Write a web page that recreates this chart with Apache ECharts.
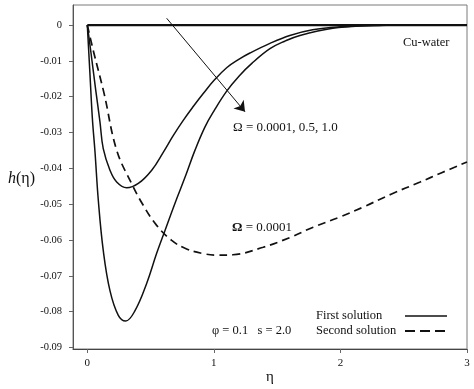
<!DOCTYPE html>
<html>
<head>
<meta charset="utf-8">
<script src="https://cdn.jsdelivr.net/npm/echarts@6/dist/echarts.min.js"></script>
<style>
html,body{margin:0;padding:0;background:#fff;}
#chart{width:474px;height:389px;}
</style>
</head>
<body>
<div id="chart"></div>
<script>
// x tick labels and y tick labels
var xTicks = [0, 1, 2, 3];
var yTicks = [-0.09, -0.08, -0.07, -0.06, -0.05, -0.04, -0.03, -0.02, -0.01, 0];

// First solution (flat at zero)
var etaFirst = [0, 3];
var hFirst = [0, 0];

// Solid curve with deep minimum (~ -0.082)
var etaDeep = [0, 0.02, 0.04, 0.061, 0.087, 0.126, 0.179, 0.245, 0.303, 0.377, 0.469, 0.548, 0.614, 0.693, 0.772, 0.851, 0.93, 1.0, 1.1, 1.2, 1.3, 1.443, 1.56, 1.68, 1.94, 2.2, 2.5, 3.0];
var hDeep = [0, -0.013, -0.026, -0.0355, -0.0489, -0.0629, -0.0741, -0.0810, -0.0826, -0.0797, -0.0721, -0.0637, -0.0573, -0.0497, -0.0425, -0.0349, -0.0284, -0.0240, -0.0185, -0.0142, -0.0107, -0.0066, -0.0045, -0.0029, -0.0009, -0.0002, 0, 0];

// Solid curve with shallow minimum (~ -0.046)
var etaShallow = [0, 0.03, 0.066, 0.1, 0.126, 0.179, 0.232, 0.311, 0.403, 0.509, 0.6, 0.68, 0.758, 0.84, 0.916, 1.0, 1.101, 1.2, 1.285, 1.443, 1.6, 1.78, 2.0, 2.3, 2.6, 3.0];
var hSecondFallback = null;
var hShallow = [0, -0.008, -0.018, -0.027, -0.0345, -0.0405, -0.0438, -0.0454, -0.0442, -0.0405, -0.0355, -0.0308, -0.0266, -0.0226, -0.0191, -0.0155, -0.0119, -0.0095, -0.0078, -0.0051, -0.0029, -0.0013, -0.0005, -0.0001, 0, 0];

// Second solution, dashed (Omega = 0.0001)
var etaSecond = [0, 0.05, 0.132, 0.232, 0.351, 0.442, 0.548, 0.667, 0.772, 0.904, 1.03, 1.15, 1.39, 1.6, 1.785, 2.0, 2.18, 2.4, 2.63, 2.8, 3.0];
var hSecond = [0, -0.0075, -0.019, -0.0349, -0.0443, -0.0503, -0.0559, -0.0601, -0.0623, -0.0637, -0.0642, -0.0641, -0.0620, -0.0593, -0.0564, -0.0535, -0.0508, -0.0472, -0.0438, -0.0412, -0.0382];

// Arrow annotation endpoints (data coords)
var arrowStart = [0.627, 0.0019];
var arrowEnd = [1.246, -0.0242];

function zip(a, b) { return a.map(function (v, i) { return [v, b[i]]; }); }

var serif = "'Liberation Serif', 'DejaVu Serif', serif";
var chart = echarts.init(document.getElementById('chart'));
chart.setOption({
  animation: false,
  backgroundColor: '#fff',
  grid: { left: 73, right: 7, top: 5, bottom: 40, show: true, borderColor: '#7a7a7a', borderWidth: 1 },
  xAxis: {
    type: 'value', min: -0.113, max: 3,
    axisLine: { show: true, onZero: false, lineStyle: { color: '#444', width: 1 } },
    axisTick: { show: true, length: 4, customValues: xTicks, lineStyle: { color: '#666' } },
    axisLabel: { customValues: xTicks, margin: 9, color: '#111', fontFamily: serif, fontSize: 11,
      formatter: function (v) { return String(Math.round(v)); } },
    splitLine: { show: false }
  },
  yAxis: {
    type: 'value', min: -0.0904, max: 0.0056,
    axisLine: { show: true, onZero: false, lineStyle: { color: '#555', width: 1 } },
    axisTick: { show: true, length: 4, customValues: yTicks, lineStyle: { color: '#666' } },
    axisLabel: { customValues: yTicks, margin: 11, color: '#111', fontFamily: serif, fontSize: 10.5,
      formatter: function (v) { return Math.abs(v) < 1e-9 ? '0' : v.toFixed(2); } },
    splitLine: { show: false }
  },
  series: [
    { type: 'line', name: 'First solution', data: zip(etaFirst, hFirst), showSymbol: false,
      lineStyle: { color: '#111', width: 2.2 },
      markLine: {
        silent: true, symbol: ['none', 'arrow'], symbolSize: 10,
        label: { show: false },
        lineStyle: { color: '#111', width: 1, type: 'solid' },
        data: [[{ coord: arrowStart }, { coord: arrowEnd }]]
      }
    },
    { type: 'line', name: 'deep', data: zip(etaDeep, hDeep), smooth: 0.4, showSymbol: false,
      lineStyle: { color: '#111', width: 1.5 } },
    { type: 'line', name: 'shallow', data: zip(etaShallow, hShallow), smooth: 0.4, showSymbol: false,
      lineStyle: { color: '#111', width: 1.5 } },
    { type: 'line', name: 'Second solution', data: zip(etaSecond, hSecond), smooth: 0.4, showSymbol: false,
      lineStyle: { color: '#111', width: 1.7, type: [8, 5] } }
  ],
  graphic: [
    { type: 'text', x: 8, y: 179, style: { text: '{i|h}{n|(η)}', rich: {
        i: { fontFamily: serif, fontStyle: 'italic', fontSize: 16, fill: '#111' },
        n: { fontFamily: serif, fontSize: 16, fill: '#111' } }, verticalAlign: 'middle' } },
    { type: 'text', x: 270, y: 377, style: { text: 'η', font: '15px ' + serif, fill: '#111', align: 'center', verticalAlign: 'middle' } },
    { type: 'text', x: 403, y: 43, style: { text: 'Cu-water', font: '12.5px ' + serif, fill: '#111', verticalAlign: 'middle' } },
    { type: 'text', x: 233, y: 128, style: { text: 'Ω = 0.0001, 0.5, 1.0', font: '13px ' + serif, fill: '#111', verticalAlign: 'middle' } },
    { type: 'text', x: 232, y: 228, style: { text: '{b|Ω} = 0.0001', font: '13px ' + serif, fill: '#111', verticalAlign: 'middle',
        rich: { b: { fontFamily: serif, fontSize: 13, fontWeight: 'bold', fill: '#111' } } } },
    { type: 'text', x: 316, y: 316, style: { text: 'First solution', font: '12.5px ' + serif, fill: '#111', verticalAlign: 'middle' } },
    { type: 'text', x: 316, y: 331, style: { text: 'Second solution', font: '12.5px ' + serif, fill: '#111', verticalAlign: 'middle' } },
    { type: 'text', x: 212, y: 331, style: { text: 'φ = 0.1   s = 2.0', font: '12.5px ' + serif, fill: '#111', verticalAlign: 'middle' } },
    { type: 'line', shape: { x1: 405, y1: 316, x2: 447, y2: 316 }, style: { stroke: '#111', lineWidth: 1.5 } },
    { type: 'line', shape: { x1: 405, y1: 331, x2: 450, y2: 331 }, style: { stroke: '#111', lineWidth: 2, lineDash: [10, 5] } }
  ]
});
</script>
</body>
</html>
